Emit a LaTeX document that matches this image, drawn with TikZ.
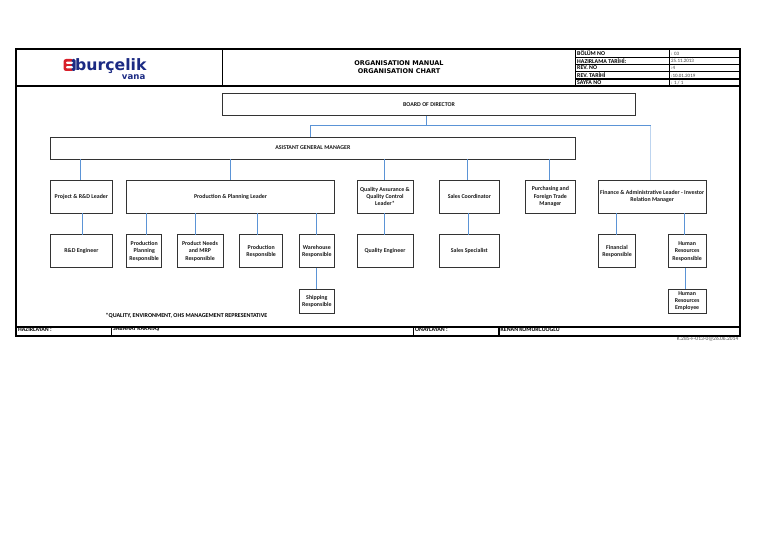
\documentclass[tikz,border=0pt]{standalone}
\usepackage{fontspec}
\setmainfont{Carlito}
\newfontfamily\titlefont{DejaVu Sans}
\usepackage{xcolor}
\usetikzlibrary{positioning}
\definecolor{linkblue}{HTML}{5B94D6}
\definecolor{logoblue}{HTML}{1B2A83}
\definecolor{logored}{HTML}{D8202A}
\tikzset{
  box/.style={draw=black!80,line width=1pt,fill=white,align=center,inner sep=0pt,outer sep=0pt,
    font=\fontsize{5.9}{7.4}\selectfont\bfseries,text=black!90},
  frame/.style={draw=black,line width=1.6pt},
  rule/.style={draw=black,line width=1.1pt},
  link/.style={draw=linkblue,line width=1pt},
  cell/.style={anchor=west,inner sep=0pt,font=\fontsize{5.9}{6}\selectfont\bfseries,text=black},
  cellval/.style={anchor=west,inner sep=0pt,font=\fontsize{5}{6}\selectfont,text=black!75}
}
\begin{document}
\begin{tikzpicture}[x=1pt,y=-1pt]
\useasboundingbox (0,0) rectangle (768,543);
% logo
\fill[logored,rounded corners=2.6pt] (63.5,59) rectangle (74,71);
\fill[logoblue,rounded corners=1.5pt] (71.5,59) rectangle (75.5,71);
\fill[white,rounded corners=1pt] (66,61.6) rectangle (73,63.8);
\fill[white,rounded corners=1pt] (66,66.2) rectangle (73,68.4);
\node[anchor=base west,inner sep=0pt,text=logoblue] (logoname) at (75,70.5)
  {\titlefont\fontsize{15.7}{16}\selectfont\bfseries burçelik};
\node[anchor=base east,inner sep=0pt,text=logoblue] (logosub) at (145.5,79.4)
  {\titlefont\fontsize{8.6}{10}\selectfont\bfseries vana};
% header
\node[align=center,font=\titlefont\fontsize{6.5}{8}\selectfont\bfseries] (title) at (399,67)
  {ORGANISATION MANUAL\\ORGANISATION CHART};
\node[cell] (lab1) at (577,53.4) {BÖLÜM NO};
\node[cell] (lab2) at (577,61) {HAZIRLAMA TARİHİ:};
\node[cell] (lab3) at (577,68) {REV. NO};
\node[cell] (lab4) at (577,75.4) {REV. TARİHİ};
\node[cell] (lab5) at (577,82.4) {SAYFA NO};
\node[cellval] (val1) at (671,53.4) {: 03};
\node[cellval] (val2) at (671,61) {25.11.2013};
\node[cellval] (val3) at (671,68) {:4};
\node[cellval] (val4) at (671,75.4) {:10.01.2019};
\node[cellval] (val5) at (671,82.4) {: 1 / 1};
% top levels
\node[box,minimum width=412.6pt,minimum height=22.4pt] (board) at (429,104.5) {BOARD OF DIRECTOR};
\node[box,minimum width=525.7pt,minimum height=22pt] (agm) at (312.85,148) {ASISTANT GENERAL MANAGER};
\coordinate (bus) at (426.7,125.7);
% leaders
\node[box,minimum width=62.7pt,minimum height=33pt] (proj) at (81.35,196.5) {Project \& R\&D Leader};
\node[box,minimum width=207.6pt,minimum height=33pt] (plan) at (230.5,196.5) {Production \& Planning Leader};
\node[box,minimum width=56pt,minimum height=33pt] (qual) at (385,196.5) {Quality Assurance \&\\Quality Control\\Leader*};
\node[box,minimum width=59.3pt,minimum height=33pt] (sales) at (469.35,196.5) {Sales Coordinator};
\node[box,minimum width=50.7pt,minimum height=33pt] (purch) at (550.35,196.5) {Purchasing and\\Foreign Trade\\Manager};
\node[box,minimum width=107.7pt,minimum height=33pt] (fin) at (652.15,196.5) {Finance \& Administrative Leader - Investor\\Relation Manager};
% staff
\node[box,minimum width=62.7pt,minimum height=33pt] (rd) at (81.35,251.2) {R\&D Engineer};
\node[box,minimum width=35pt,minimum height=33pt] (pplan) at (144.2,251.2) {Production\\Planning\\Responsible};
\node[box,minimum width=46pt,minimum height=33pt] (pneed) at (200,251.2) {Product Needs\\and MRP\\Responsible};
\node[box,minimum width=43pt,minimum height=33pt] (presp) at (261.2,251.2) {Production\\Responsible};
\node[box,minimum width=35pt,minimum height=33pt] (ware) at (316.8,251.2) {Warehouse\\Responsible};
\node[box,minimum width=56pt,minimum height=33pt] (qeng) at (385,251.2) {Quality Engineer};
\node[box,minimum width=59.3pt,minimum height=33pt] (sspec) at (469.35,251.2) {Sales Specialist};
\node[box,minimum width=37.4pt,minimum height=33pt] (fresp) at (617,251.2) {Financial\\Responsible};
\node[box,minimum width=37.7pt,minimum height=33pt] (hresp) at (687.15,251.2) {Human\\Resources\\Responsible};
\node[box,minimum width=35pt,minimum height=24pt] (ship) at (316.8,301.3) {Shipping\\Responsible};
\node[box,minimum width=37.7pt,minimum height=24pt] (hemp) at (687.15,301) {Human\\Resources\\Employee};
% links
\draw[link] (board.south -| bus) -- (bus);
\draw[link] (310.3,125.7) -- (bus) -- (650.7,125.7);
\draw[link] (310.3,125.7) -- (310.3,0 |- agm.north);
\draw[link,draw=linkblue!40] (650.7,125.7) -- (650.7,0 |- fin.north);
\draw[link] (80.3,0 |- agm.south) -- (80.3,0 |- proj.north);
\draw[link] (230.7,0 |- agm.south) -- (230.7,0 |- plan.north);
\draw[link] (384.3,0 |- agm.south) -- (384.3,0 |- qual.north);
\draw[link] (467.3,0 |- agm.south) -- (467.3,0 |- sales.north);
\draw[link] (549.3,0 |- agm.south) -- (549.3,0 |- purch.north);
\draw[link] (82.3,0 |- proj.south) -- (82.3,0 |- rd.north);
\draw[link] (146,0 |- plan.south) -- (146,0 |- pplan.north);
\draw[link] (195.3,0 |- plan.south) -- (195.3,0 |- pneed.north);
\draw[link] (257,0 |- plan.south) -- (257,0 |- presp.north);
\draw[link] (316.7,0 |- plan.south) -- (316.7,0 |- ware.north);
\draw[link] (384.3,0 |- qual.south) -- (384.3,0 |- qeng.north);
\draw[link] (468.3,0 |- sales.south) -- (468.3,0 |- sspec.north);
\draw[link] (616.7,0 |- fin.south) -- (616.7,0 |- fresp.north);
\draw[link] (684.3,0 |- fin.south) -- (684.3,0 |- hresp.north);
\draw[link] (316.7,0 |- ware.south) -- (316.7,0 |- ship.north);
\draw[link] (685.7,0 |- hresp.south) -- (685.7,0 |- hemp.north);
% note and footer
\node[font=\fontsize{6}{7}\selectfont\bfseries,text=black,inner sep=0pt] (note) at (186.5,315.5)
  {*QUALITY, ENVIRONMENT, OHS MANAGEMENT REPRESENTATIVE};
\node[cell] (prep) at (18,329.4) {HAZIRLAYAN :};
\node[cell] (prepname) at (113,329.4) {SABAHAT KARATAŞ};
\node[cell] (appr) at (415,329.4) {ONAYLAYAN :};
\node[cell] (apprname) at (500.5,329.4) {KENAN KÖMÜRCÜOĞLU};
\node[anchor=east,inner sep=0pt,font=\fontsize{5.5}{6}\selectfont,text=black!70] (code) at (738.5,338.8) {K.285-F-013-0@26.06.2014};
% page frame, over the cut off footer texts
\draw[frame] (16,49) rectangle (740,335.7);
\draw[frame] (16,85.7) -- (740,85.7);
\draw[frame] (16,327) -- (740,327);
\draw[rule] (222.7,49) -- (222.7,85.7);
\draw[rule] (575.7,49) -- (575.7,85.7);
\draw[rule] (669.7,49) -- (669.7,85.7);
\draw[rule] (575.7,57.3) -- (740,57.3);
\draw[rule] (575.7,64.3) -- (740,64.3);
\draw[rule] (575.7,71.7) -- (740,71.7);
\draw[rule] (575.7,79) -- (740,79);
\draw[rule] (111.3,327) -- (111.3,335.7);
\draw[rule] (413.3,327) -- (413.3,335.7);
\draw[rule] (499,327) -- (499,335.7);
\end{tikzpicture}
\end{document}
